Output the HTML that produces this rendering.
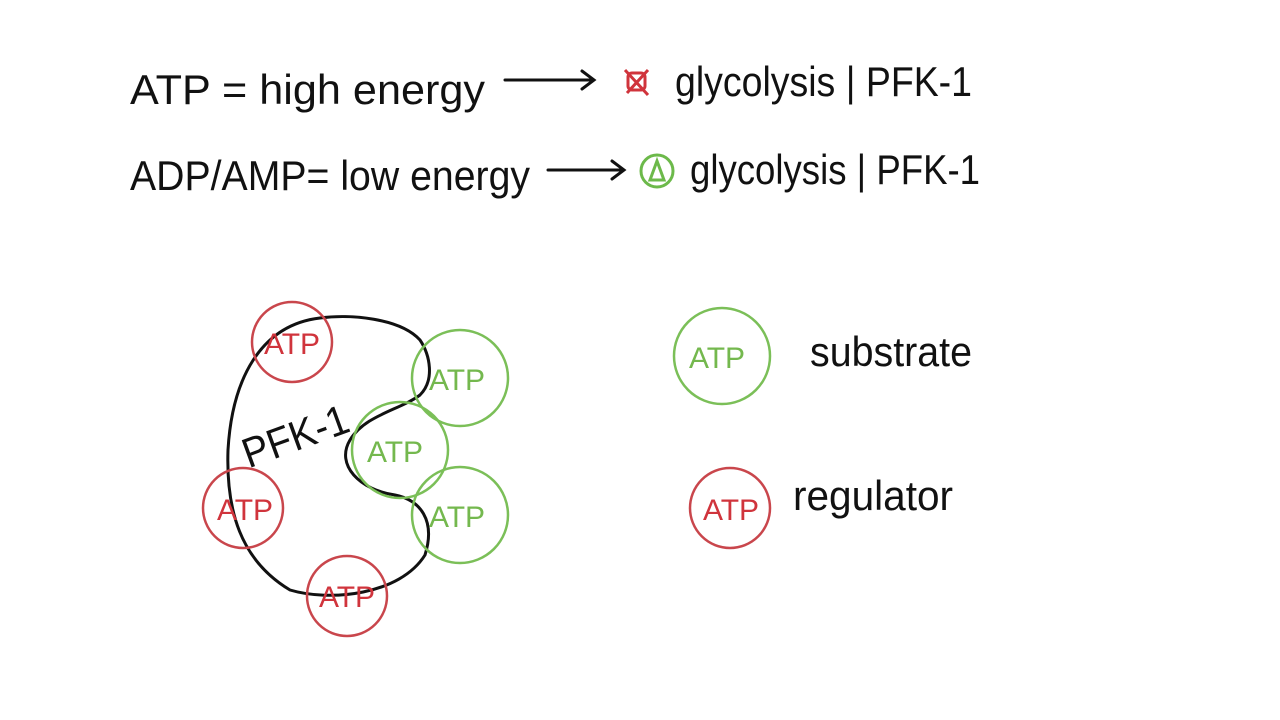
<!DOCTYPE html>
<html><head><meta charset="utf-8"><style>
html,body{margin:0;padding:0;background:#fff;}
svg{display:block}
text{font-family:"Liberation Sans",sans-serif;}
</style></head><body>
<svg width="1280" height="720" viewBox="0 0 1280 720" xmlns="http://www.w3.org/2000/svg">
<rect width="1280" height="720" fill="#fff"/>
<g fill="#111" font-size="42">
<text x="130" y="104" textLength="355" lengthAdjust="spacingAndGlyphs">ATP = high energy</text>
<text x="675" y="96" textLength="297" lengthAdjust="spacingAndGlyphs">glycolysis | PFK-1</text>
<text x="130" y="190" textLength="400" lengthAdjust="spacingAndGlyphs">ADP/AMP= low energy</text>
<text x="690" y="184" textLength="290" lengthAdjust="spacingAndGlyphs">glycolysis | PFK-1</text>
<text x="810" y="366" textLength="162" lengthAdjust="spacingAndGlyphs">substrate</text>
<text x="793" y="510" textLength="160" lengthAdjust="spacingAndGlyphs">regulator</text>
<text x="238" y="452" transform="rotate(-20 290 430)" textLength="110" lengthAdjust="spacingAndGlyphs">PFK-1</text>
</g>
<g stroke="#111" stroke-width="3" fill="none" stroke-linecap="round">
<path d="M505 80 L593 80 M582 71 L594 80 L582 89"/>
<path d="M548 170 L623 170 M612 161 L624 170 L612 179"/>
<path d="M420 340 C400 318 350 314 320 318 C260 325 232 380 228 450 C226 510 240 560 290 590 C330 602 400 595 425 555 C436 520 420 500 395 495 C360 490 335 465 350 440 C365 415 400 410 420 395 C435 380 430 355 420 340"/>
</g>
<g stroke="#d0343c" stroke-width="3" fill="none">
<path d="M625 70 L648 95 M627 93 L648 70"/>
<rect x="628" y="73" width="17" height="17" rx="4"/>
</g>
<g stroke="#6cb94a" stroke-width="3" fill="none">
<circle cx="657" cy="171" r="16"/>
<path d="M657 161 L650 180 L664 180 Z"/>
</g>
<g fill="none" stroke-width="2.5">
<g stroke="#c9464c">
<circle cx="292" cy="342" r="40"/>
<circle cx="243" cy="508" r="40"/>
<circle cx="347" cy="596" r="40"/>
<circle cx="730" cy="508" r="40"/>
</g>
<g stroke="#7bbf58">
<circle cx="460" cy="378" r="48"/>
<circle cx="400" cy="450" r="48"/>
<circle cx="460" cy="515" r="48"/>
<circle cx="722" cy="356" r="48"/>
</g>
</g>
<g font-size="30" text-anchor="middle">
<g fill="#d0343c">
<text x="292" y="354">ATP</text>
<text x="245" y="520">ATP</text>
<text x="347" y="607">ATP</text>
<text x="731" y="520">ATP</text>
</g>
<g fill="#74b84e">
<text x="457" y="390">ATP</text>
<text x="395" y="462">ATP</text>
<text x="457" y="527">ATP</text>
<text x="717" y="368">ATP</text>
</g>
</g>
</svg>
</body></html>
